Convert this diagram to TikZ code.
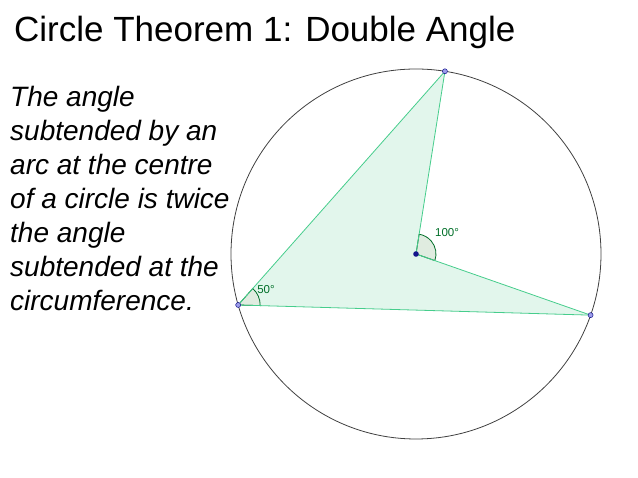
\documentclass[tikz,border=0pt]{standalone}
\usepackage{fontspec}
\setmainfont{Liberation Sans}
\usetikzlibrary{calc}

\definecolor{polyline}{RGB}{70,205,140}
\definecolor{polyfill}{RGB}{226,246,236}
\definecolor{anglefill}{RGB}{224,236,224}
\definecolor{angleline}{RGB}{0,110,40}
\definecolor{ptblue}{RGB}{90,90,220}
\definecolor{ptdark}{RGB}{20,20,140}

\begin{document}
\begin{tikzpicture}[x=1pt, y=1pt,
    side/.style={polyline, line width=0.8pt},
    mark angle/.style={draw=angleline, fill=anglefill, line width=0.8pt},
    point/.style={draw=ptdark, fill=ptblue!60, line width=0.5pt}]
    \useasboundingbox (0,0) rectangle (638,478);
    % centre and the three points on the circle
    \coordinate (O) at (416,224);
    \coordinate (A) at ($(O)+(81:185)$);
    \coordinate (B) at ($(O)+(-19.3:185)$);
    \coordinate (C) at ($(O)+(196:185)$);
    \fill [polyfill] (C) -- (A) -- (O) -- (B) -- cycle;
    \draw [mark angle] (O) -- ++(-19.3:20) arc [start angle=-19.3, end angle=81, radius=20pt] -- cycle;
    \draw [mark angle] (C) -- ++(-1.6:22) arc [start angle=-1.6, end angle=48.5, radius=22pt] -- cycle;
    \draw [side] (C) -- (A);
    \draw [side] (A) -- (O);
    \draw [side] (O) -- (B);
    \draw [side] (B) -- (C);
    \draw [black!75, line width=0.8pt] (O) circle [radius=185pt];
    \node [angleline, font=\fontsize{11.5}{13}\selectfont] (l100) at (447,245) {100°};
    \node [angleline, font=\fontsize{11.5}{13}\selectfont] (l50) at (266,188) {50°};
    \filldraw [point] (A) circle [radius=2.5pt];
    \filldraw [point] (B) circle [radius=2.5pt];
    \filldraw [point] (C) circle [radius=2.5pt];
    \fill [ptdark] (O) circle [radius=2.8pt];
    % texts
    \node [anchor=base west, inner sep=0pt, font=\fontsize{35}{42}\selectfont] (title) at (14,436) {Circle Theorem 1: Double Angle};
    \node [anchor=north west, inner sep=0pt, align=left, font=\fontsize{28}{34}\selectfont\itshape] (rule) at (10,392)
      {The angle\\ subtended by an\\ arc at the centre\\ of a circle is twice\\ the angle\\ subtended at the\\ circumference.};
\end{tikzpicture}
\end{document}
